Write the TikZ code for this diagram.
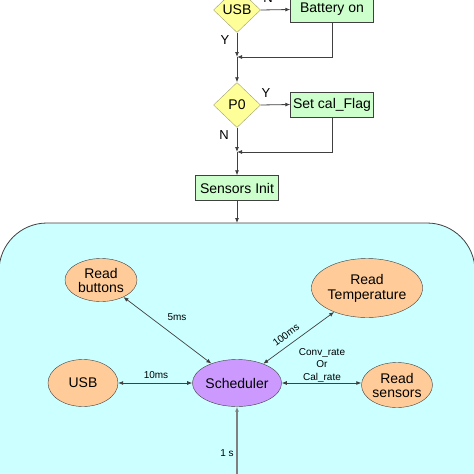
\documentclass[tikz,border=0pt]{standalone}
\usepackage{fontspec}
\setmainfont{Liberation Sans}
\usetikzlibrary{shapes.geometric,arrows.meta}
\definecolor{linec}{HTML}{404040}
\definecolor{boxgreen}{HTML}{CCFFCC}
\definecolor{decyellow}{HTML}{FFFF99}
\definecolor{decline}{HTML}{A0A070}
\definecolor{bgcyan}{HTML}{CCFFFF}
\definecolor{peach}{HTML}{FFCC99}
\definecolor{lilac}{HTML}{CC99FF}
\tikzset{
  flowbox/.style={draw=linec, fill=boxgreen, minimum width=83pt, minimum height=25pt, inner sep=0pt, font=\fontsize{14}{16}\selectfont},
  decision/.style={diamond, draw=decline, fill=decyellow, minimum width=47pt, minimum height=45pt, inner sep=0pt, font=\fontsize{14}{16}\selectfont},
  task/.style={ellipse, draw=linec, fill=peach, inner sep=0pt, align=center, font=\fontsize{14}{16}\selectfont},
  sched/.style={ellipse, draw=linec, fill=lilac, inner sep=0pt, font=\fontsize{14}{16}\selectfont},
  conn/.style={draw=linec, line width=0.8pt, -{Latex[length=5pt,width=4pt]}},
  bothway/.style={draw=linec, line width=0.7pt, {Latex[length=5pt,width=4pt]}-{Latex[length=5pt,width=4pt]}},
  yn/.style={font=\fontsize{13}{15}\selectfont},
  small/.style={font=\fontsize{10}{12.5}\selectfont, align=center, inner sep=0.5pt}
}
\begin{document}
\begin{tikzpicture}[x=1pt,y=-1pt]
\useasboundingbox (0,0) rectangle (474,474);
\clip (0,0) rectangle (474,474);
% container
\draw[draw=linec, line width=0.8pt, fill=bgcyan, rounded corners=48pt] (-1,223) rectangle (475,530);
\coordinate (boxtop) at (237,223);
\coordinate (bottomend) at (237,480);
% flow chart
\node[decision] (usbd) at (237,10) {USB};
\node[flowbox] (bat) at (332,9.5) {Battery on};
\coordinate (j1) at (237,57);
\node[decision] (p0) at (237,105) {P0};
\node[flowbox] (cal) at (332,104.5) {Set cal\_Flag};
\coordinate (j2) at (237,152);
\node[flowbox] (init) at (237,188) {Sensors Init};
\node[yn] (nlab) at (268,-2) {N};
\node[yn] (ylab) at (225,40) {Y};
\node[yn] (ylab2) at (266,93) {Y};
\node[yn] (nlab2) at (224,135) {N};
\draw[conn] (usbd.east) -- (bat.west);
\draw[conn] (usbd.south) -- (j1);
\draw[conn] (bat.south) |- (j1);
\draw[conn] (j1) -- (p0.north);
\draw[conn] (p0.east) -- (cal.west);
\draw[conn] (p0.south) -- (j2);
\draw[conn] (cal.south) |- (j2);
\draw[conn] (j2) -- (init.north);
\draw[conn] (init.south) -- (boxtop);
% scheduler part
\node[task, minimum width=72pt, minimum height=43pt] (rb) at (101,280) {Read\\[-2pt]buttons};
\node[task, minimum width=95pt, minimum height=59pt] (rt) at (367,288) {Read\\[-1pt]Temperature};
\node[task, minimum width=70pt, minimum height=47pt] (usbt) at (83,383) {USB};
\node[sched, minimum width=71pt, minimum height=47pt] (sch) at (237,383) {Scheduler};
\node[task, minimum width=71pt, minimum height=45pt] (rs) at (397,385) {Read\\[-2pt]sensors};
\draw[bothway] (rb) -- (sch);
\draw[bothway] (rt) -- (sch);
\draw[bothway] (usbt.east) -- (sch.west);
\draw[bothway] (sch.east) -- (rs.west |- sch.east);
\draw[draw=gray, line width=1.3pt, -{Latex[length=5pt,width=4pt]}] (bottomend) -- (sch.south);
\node[small] (l5) at (177,317) {5ms};
\node[small, rotate=37] (l100) at (286,335) {100ms};
\node[small] (l10) at (156,375) {10ms};
\node[small] (lconv) at (322,365) {Conv\_rate\\Or\\Cal\_rate};
\node[small] (l1s) at (227,453) {1 s};
\end{tikzpicture}
\end{document}
